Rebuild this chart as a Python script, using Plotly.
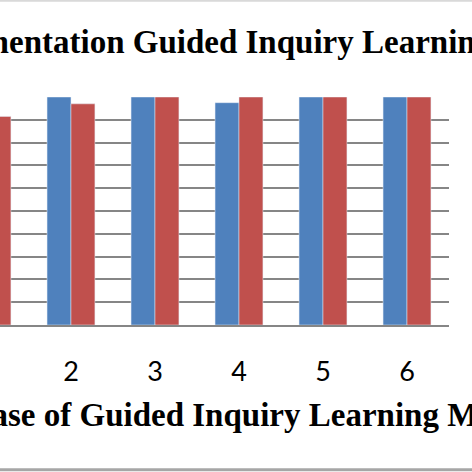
import plotly.graph_objects as go

# phases of the guided inquiry model (phase 1 is mostly cut off on the left)
phases = [1, 2, 3, 4, 5, 6]
meeting_1 = [88.0, 100.0, 100.0, 97.5, 100.0, 100.0]
meeting_2 = [91.5, 97.0, 100.0, 100.0, 100.0, 100.0]

chart_title = "Implementation Guided Inquiry Learning Model"
x_title = "Phase of Guided Inquiry Learning Model"

fig = go.Figure()
fig.add_trace(go.Bar(x=phases, y=meeting_1, name="Meeting 1", marker_color="#4F81BD"))
fig.add_trace(go.Bar(x=phases, y=meeting_2, name="Meeting 2", marker_color="#C0504D"))

fig.update_layout(
    width=472, height=472,
    margin=dict(l=0, r=23, t=97, b=147, autoexpand=False),
    paper_bgcolor="white", plot_bgcolor="white",
    barmode="group", bargap=0.43, bargroupgap=0,
    showlegend=False,
)
fig.update_xaxes(
    range=[1.155, 6.5], tickvals=phases[1:], showgrid=False,
    showline=True, linecolor="#868686", linewidth=1.5,
    ticks="outside", ticklen=0, ticklabelstandoff=22,
    tickfont=dict(family="Lato", size=27, color="black"),
)
fig.update_yaxes(
    range=[0, 100], dtick=10, showgrid=True, gridcolor="#868686", gridwidth=1.5,
    showticklabels=False, zeroline=False,
)

# title and axis title run off the cropped canvas on both sides
fig.add_annotation(text="<b>" + chart_title + "</b>", xref="paper", yref="paper",
                   x=-0.229, y=1.241, xanchor="left", yanchor="middle", showarrow=False,
                   font=dict(family="Liberation Serif", size=33, color="black"))
fig.add_annotation(text="<b>" + x_title + "</b>", xref="paper", yref="paper",
                   x=-0.109, y=-0.395, xanchor="left", yanchor="middle", showarrow=False,
                   font=dict(family="Liberation Serif", size=33, color="black"))

# chart-area border edges visible at top and bottom of the crop
fig.add_shape(type="line", xref="paper", yref="paper", x0=-0.2, x1=1.2, y0=1.424, y1=1.424,
              line=dict(color="#d9d9d9", width=3))
fig.add_shape(type="line", xref="paper", yref="paper", x0=-0.2, x1=1.2, y0=-0.635, y1=-0.635,
              line=dict(color="#a6a6a6", width=3))

# drop the browser's default page margin so the figure sits at the window corner
fig.write_html("out.html", config={"displayModeBar": False},
               post_script="document.body.style.margin='0px';")
